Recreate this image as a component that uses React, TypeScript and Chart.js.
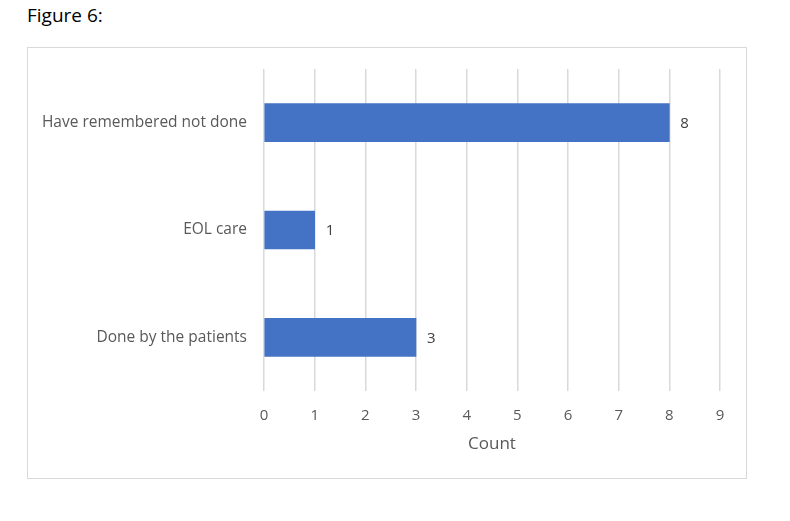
import { useEffect, useRef } from 'react'
import { Chart, registerables } from 'chart.js'

Chart.register(...registerables)

const categories = ['Have remembered not done', 'EOL care', 'Done by the patients']
const counts = [8, 1, 3]
const xTicks = [0, 1, 2, 3, 4, 5, 6, 7, 8, 9]

const FONT = '"Open Sans", sans-serif'

// draws the count just to the right of each bar
const valueLabels = {
  id: 'valueLabels',
  afterDatasetsDraw(chart: any) {
    const ctx = chart.ctx
    const meta = chart.getDatasetMeta(0)
    ctx.save()
    ctx.font = `15px ${FONT}`
    ctx.fillStyle = '#404040'
    ctx.textAlign = 'left'
    ctx.textBaseline = 'middle'
    meta.data.forEach((bar: any, i: number) => {
      ctx.fillText(String(chart.data.datasets[0].data[i]), bar.x + 11, bar.y + 1)
    })
    ctx.restore()
  }
}

export default function App() {
  const canvasRef = useRef<HTMLCanvasElement | null>(null)
  const chartRef = useRef<Chart | null>(null)

  useEffect(() => {
    if (!canvasRef.current) return
    if (chartRef.current) chartRef.current.destroy()

    chartRef.current = new Chart(canvasRef.current, {
      type: 'bar',
      data: {
        labels: categories,
        datasets: [{
          data: counts,
          backgroundColor: '#4472C4',
          barThickness: 38
        }]
      },
      options: {
        indexAxis: 'y',
        animation: false,
        responsive: false,
        maintainAspectRatio: false,
        layout: { padding: { top: 21, right: 26, bottom: 24, left: 0 } },
        plugins: {
          legend: { display: false },
          tooltip: { enabled: false }
        },
        scales: {
          x: {
            type: 'linear',
            min: 0,
            max: 9,
            afterBuildTicks: (axis: any) => {
              axis.ticks = xTicks.map(v => ({ value: v }))
            },
            afterFit: (axis: any) => { axis.height = 63 },
            grid: { color: '#d9d9d9', lineWidth: 1.5, drawTicks: false },
            border: { display: false },
            ticks: {
              color: '#595959',
              font: { family: FONT, size: 15 },
              padding: 16
            },
            title: {
              display: true,
              text: 'Count',
              color: '#595959',
              font: { family: FONT, size: 17 },
              padding: { top: 6, bottom: 0 }
            }
          },
          y: {
            afterFit: (axis: any) => {
              axis.width = 236
              axis.paddingTop = 0
              axis.paddingBottom = 0
            },
            grid: { display: false, drawTicks: false },
            border: { display: false },
            ticks: {
              color: '#595959',
              font: { family: FONT, size: 15.5 },
              padding: 17
            }
          }
        }
      },
      plugins: [valueLabels]
    })

    return () => {
      if (chartRef.current) {
        chartRef.current.destroy()
        chartRef.current = null
      }
    }
  }, [])

  return (
    <div style={{ position: 'absolute', left: 0, top: 0, width: 790, height: 521, background: '#fff' }}>
      <div style={{ position: 'absolute', left: 27, top: 2, fontFamily: FONT, fontSize: 19, color: '#000' }}>
        Figure 6:
      </div>
      <div style={{ position: 'absolute', left: 27, top: 47, width: 718, height: 430, border: '1.5px solid #d9d9d9' }}>
        <canvas ref={canvasRef} width={718} height={430} style={{ display: 'block' }} />
      </div>
    </div>
  )
}
